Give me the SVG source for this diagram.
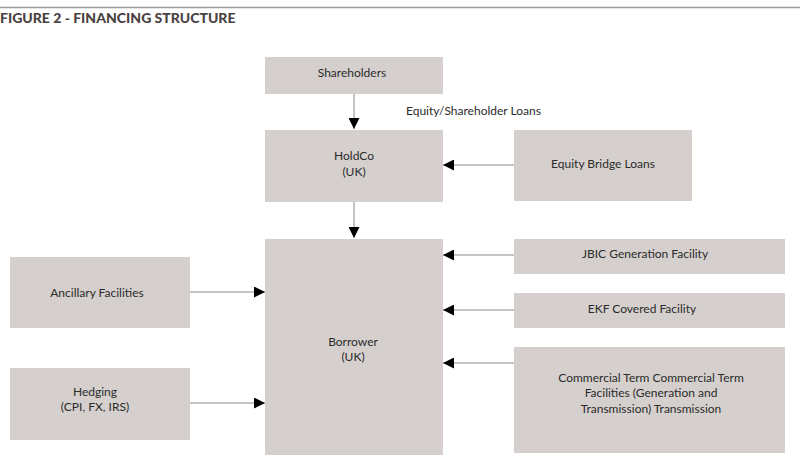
<svg xmlns="http://www.w3.org/2000/svg" width="800" height="473" viewBox="0 0 800 473">
<style>
.box{fill:#d5d0cd}
.t{font-family:Lato,"Noto Sans","Liberation Sans",sans-serif;font-size:12px;fill:#2b2b2b;text-anchor:middle}
.c{stroke:#8a8a8a;stroke-width:1;fill:none}
.title{font-family:Lato,"Noto Sans","Liberation Sans",sans-serif;font-size:14px;font-weight:900;fill:#4a4242}
</style>
<defs>
<marker id="ah" viewBox="0 0 10 10" refX="10" refY="5" markerWidth="12" markerHeight="11" markerUnits="userSpaceOnUse" orient="auto">
<path d="M0,0 L10,5 L0,10 Z" fill="#000"/>
</marker>
</defs>
<rect width="800" height="473" fill="#fff"/>
<line x1="0" y1="7.5" x2="800" y2="7.5" stroke="#9a9a9a" stroke-width="1.5"/>
<text class="title" x="0" y="23">FIGURE 2 - FINANCING STRUCTURE</text>

<g id="connectors">
<line class="c" x1="354" y1="94" x2="354" y2="129" marker-end="url(#ah)"/>
<line class="c" x1="354" y1="202" x2="354" y2="238" marker-end="url(#ah)"/>
<line class="c" x1="514" y1="165" x2="443" y2="165" marker-end="url(#ah)"/>
<line class="c" x1="514" y1="255" x2="443" y2="255" marker-end="url(#ah)"/>
<line class="c" x1="514" y1="310" x2="443" y2="310" marker-end="url(#ah)"/>
<line class="c" x1="514" y1="363" x2="443" y2="363" marker-end="url(#ah)"/>
<line class="c" x1="190" y1="292" x2="265" y2="292" marker-end="url(#ah)"/>
<line class="c" x1="190" y1="403" x2="265" y2="403" marker-end="url(#ah)"/>
<text class="t" x="406" y="115" style="text-anchor:start">Equity/Shareholder Loans</text>
</g>

<g id="shareholders"><rect class="box" x="265" y="57" width="178" height="37"/><text class="t" x="352" y="77">Shareholders</text></g>
<g id="holdco"><rect class="box" x="265" y="130" width="178" height="72"/><text class="t" x="354" y="160">HoldCo</text><text class="t" x="354" y="176">(UK)</text></g>
<g id="equity-bridge"><rect class="box" x="514" y="130" width="178" height="71"/><text class="t" x="603" y="168">Equity Bridge Loans</text></g>
<g id="borrower"><rect class="box" x="265" y="239" width="178" height="216"/><text class="t" x="353" y="346">Borrower</text><text class="t" x="353" y="361">(UK)</text></g>
<g id="jbic"><rect class="box" x="514" y="239" width="271" height="35"/><text class="t" x="645" y="258">JBIC Generation Facility</text></g>
<g id="ekf"><rect class="box" x="514" y="293" width="271" height="35"/><text class="t" x="642" y="313">EKF Covered Facility</text></g>
<g id="commercial"><rect class="box" x="514" y="347" width="271" height="106"/><text class="t" x="651" y="382">Commercial Term Commercial Term</text><text class="t" x="651" y="397">Facilities (Generation and</text><text class="t" x="651" y="413">Transmission) Transmission</text></g>
<g id="ancillary"><rect class="box" x="10" y="257" width="180" height="71"/><text class="t" x="97" y="297">Ancillary Facilities</text></g>
<g id="hedging"><rect class="box" x="10" y="368" width="180" height="72"/><text class="t" x="95" y="396">Hedging</text><text class="t" x="95" y="411">(CPI, FX, IRS)</text></g>
</svg>
